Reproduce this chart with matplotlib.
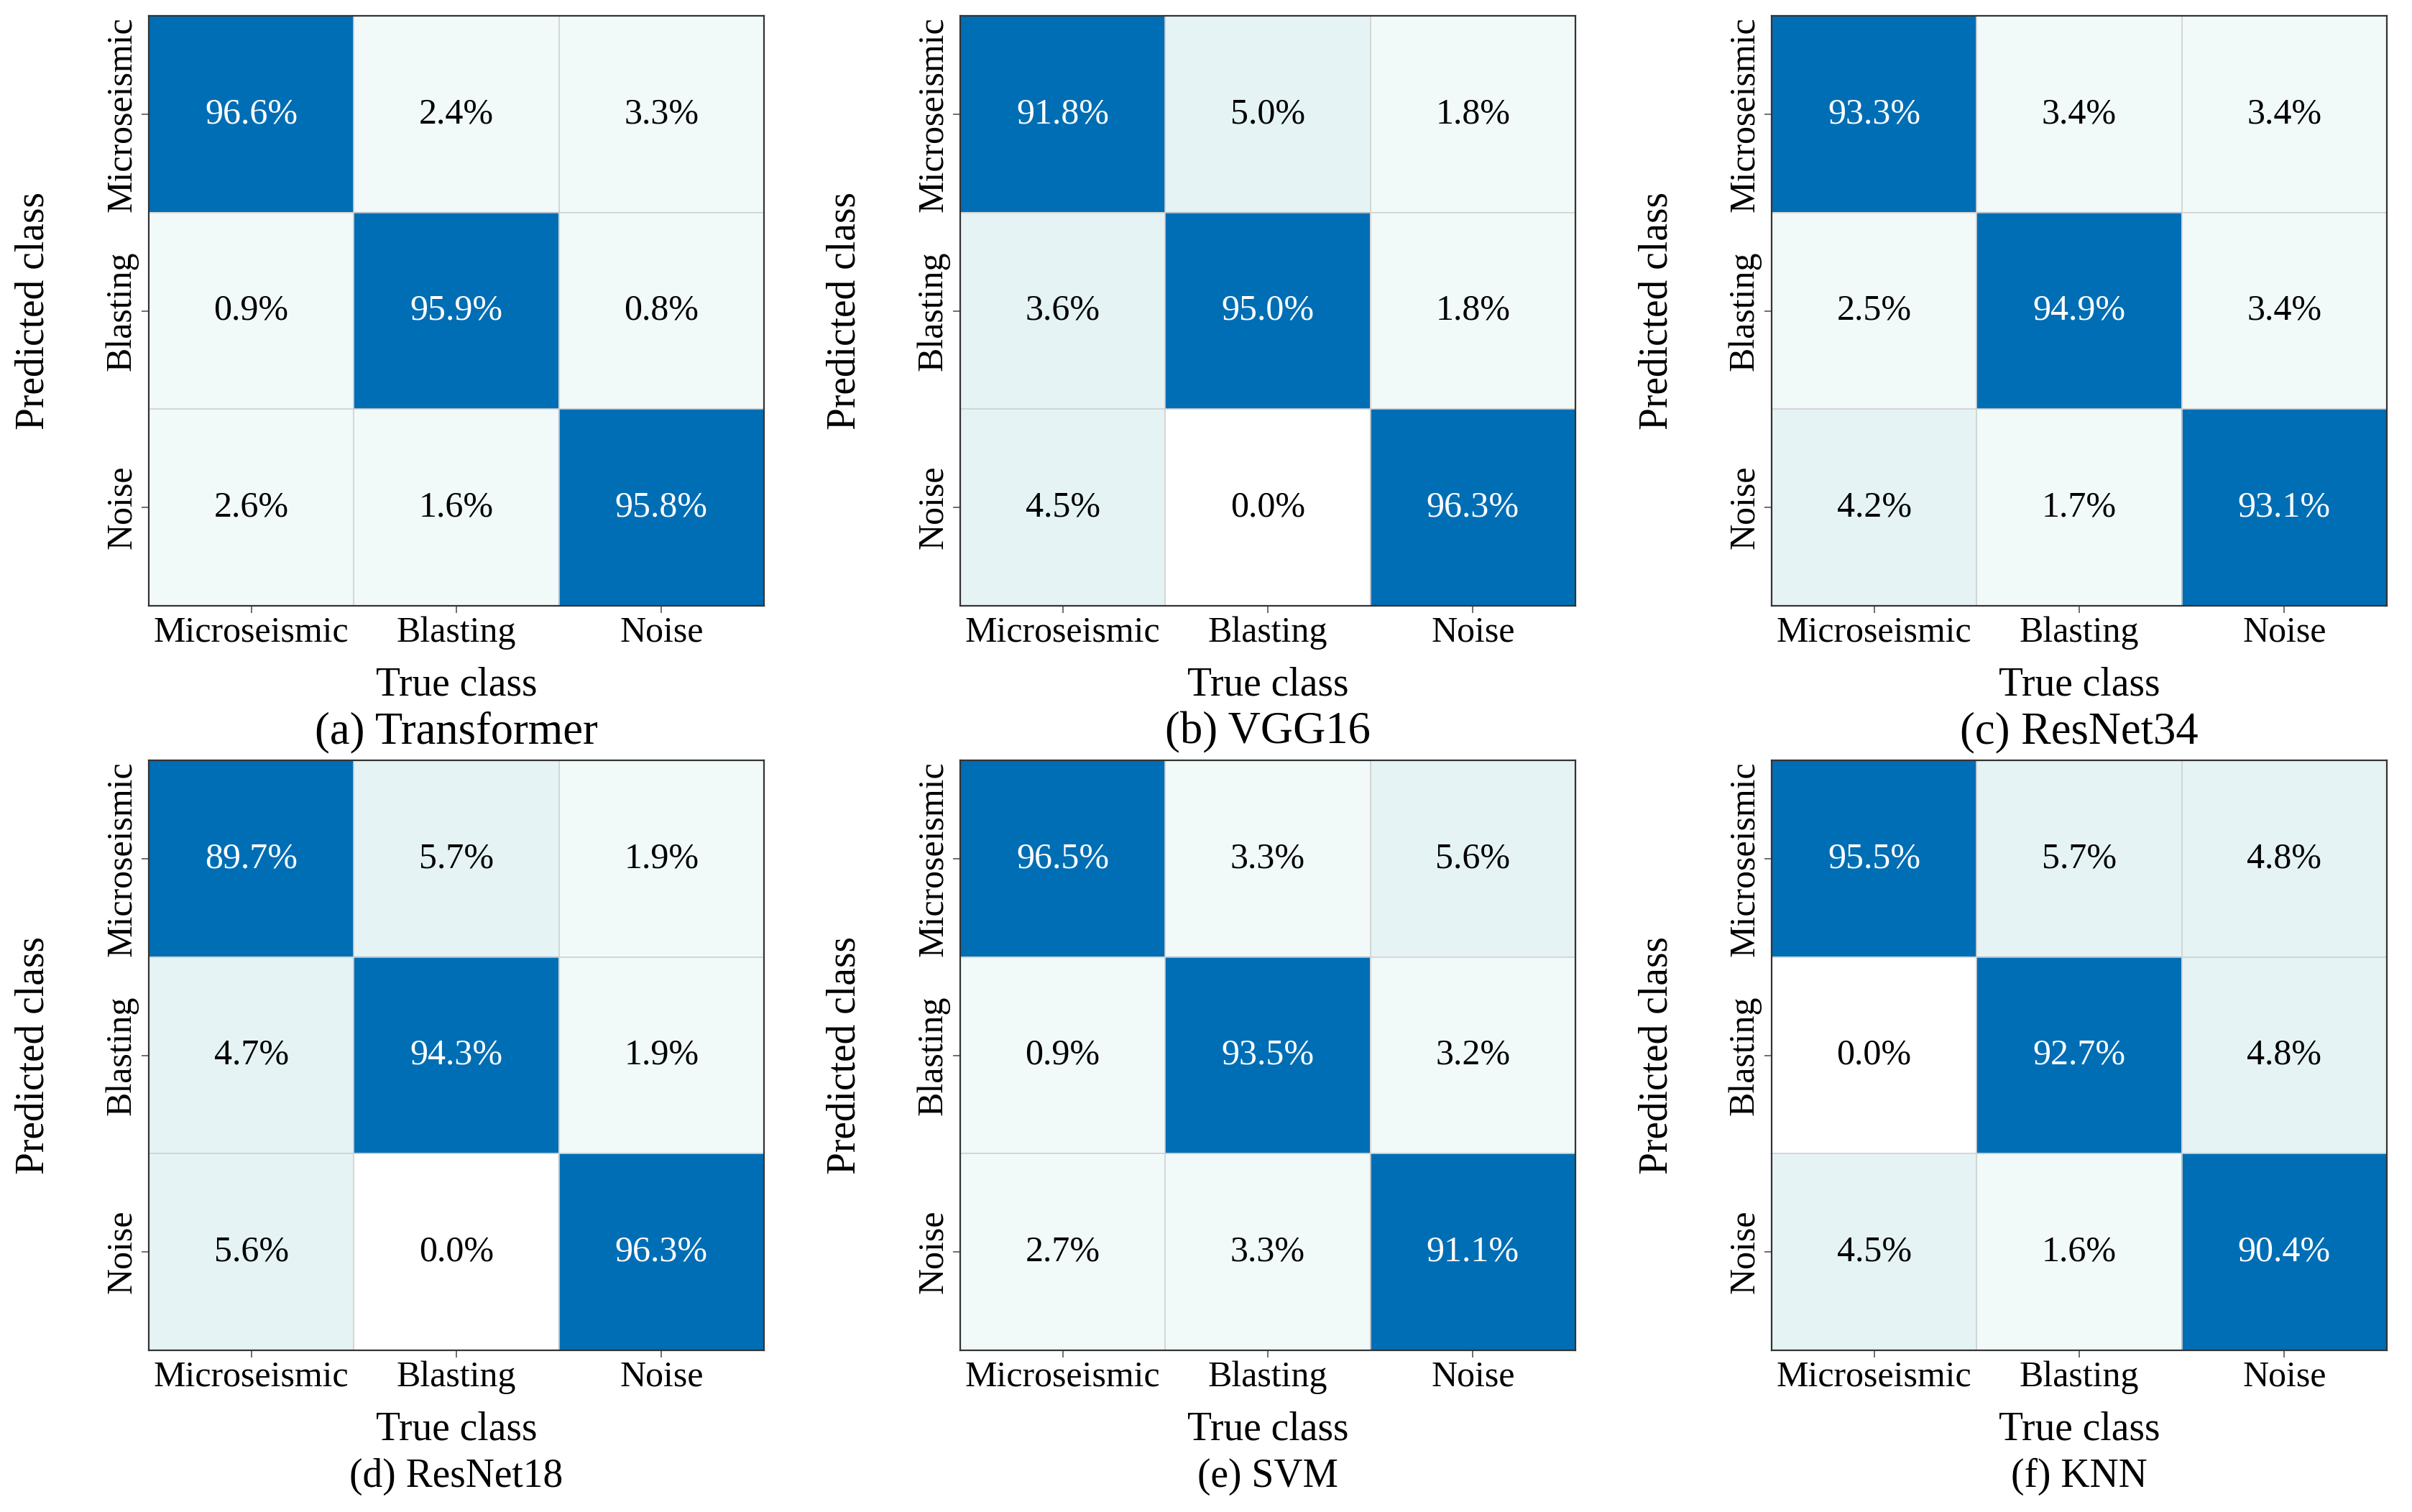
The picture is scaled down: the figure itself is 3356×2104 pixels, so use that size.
import numpy as np
import matplotlib
matplotlib.use("Agg")
import matplotlib.pyplot as plt
from matplotlib.colors import ListedColormap, BoundaryNorm

plt.rcParams['font.family'] = 'serif'
plt.rcParams['font.serif'] = ['Liberation Serif', 'DejaVu Serif']

classes = ["Microseismic", "Blasting", "Noise"]
titles = ["(a) Transformer", "(b) VGG16", "(c) ResNet34",
          "(d) ResNet18", "(e) SVM", "(f) KNN"]

# rows = predicted class, columns = true class (percent)
transformer = [[96.6, 2.4, 3.3], [0.9, 95.9, 0.8], [2.6, 1.6, 95.8]]
vgg16 = [[91.8, 5.0, 1.8], [3.6, 95.0, 1.8], [4.5, 0.0, 96.3]]
resnet34 = [[93.3, 3.4, 3.4], [2.5, 94.9, 3.4], [4.2, 1.7, 93.1]]
resnet18 = [[89.7, 5.7, 1.9], [4.7, 94.3, 1.9], [5.6, 0.0, 96.3]]
svm = [[96.5, 3.3, 5.6], [0.9, 93.5, 3.2], [2.7, 3.3, 91.1]]
knn = [[95.5, 5.7, 4.8], [0.0, 92.7, 4.8], [4.5, 1.6, 90.4]]
matrices = [transformer, vgg16, resnet34, resnet18, svm, knn]

W, H = 3356, 2104
DPI = 200
fig = plt.figure(figsize=(W / DPI, H / DPI), dpi=DPI)

cmap = ListedColormap(["#FFFFFF", "#F2F9F9", "#E5F3F4", "#006EB5"])
norm = BoundaryNorm([-0.01, 0.05, 3.5, 50, 101], cmap.N)

col_left = [207, 1336, 2465]
row_top = [22, 1058]
aw, ah = 856, 821
title_size = [22.5, 20]

def fx(px):
    return px / W

def fy(py):
    return 1 - py / H

for k, (mat, title) in enumerate(zip(matrices, titles)):
    r, c = divmod(k, 3)
    left, top = col_left[c], row_top[r]
    ax = fig.add_axes([fx(left), fy(top + ah), aw / W, ah / H])
    data = np.array(mat)
    ax.imshow(data, cmap=cmap, norm=norm, aspect='auto', interpolation='nearest')
    for i in range(3):
        for j in range(3):
            v = data[i, j]
            ax.text(j, i, f"{v:.1f}%", ha='center', va='center',
                    fontsize=18, color='white' if v > 50 else 'black')
    for b in (0.5, 1.5):
        ax.axhline(b, color='#CFCFCF', lw=0.6)
        ax.axvline(b, color='#CFCFCF', lw=0.6)
    ax.set_xticks(range(3))
    ax.set_yticks(range(3))
    ax.set_xticklabels(classes, fontsize=18)
    ax.set_yticklabels(classes, fontsize=18, rotation=90, va='center')
    ax.tick_params(axis='both', length=3.6, width=0.6, color='#555555', pad=1.5)
    for s in ax.spines.values():
        s.set_color('#333333')
        s.set_linewidth(0.8)
    cx = left + aw / 2
    fig.text(fx(cx), fy(top + ah + 111), "True class", ha='center', va='center',
             fontsize=20)
    fig.text(fx(cx), fy(top + ah + 176), title, ha='center', va='center',
             fontsize=title_size[r])
    fig.text(fx(left - 160), fy(top + ah / 2), "Predicted class", ha='center',
             va='center', rotation=90, fontsize=20)

fig.savefig("out.png", dpi=DPI, facecolor='white')
